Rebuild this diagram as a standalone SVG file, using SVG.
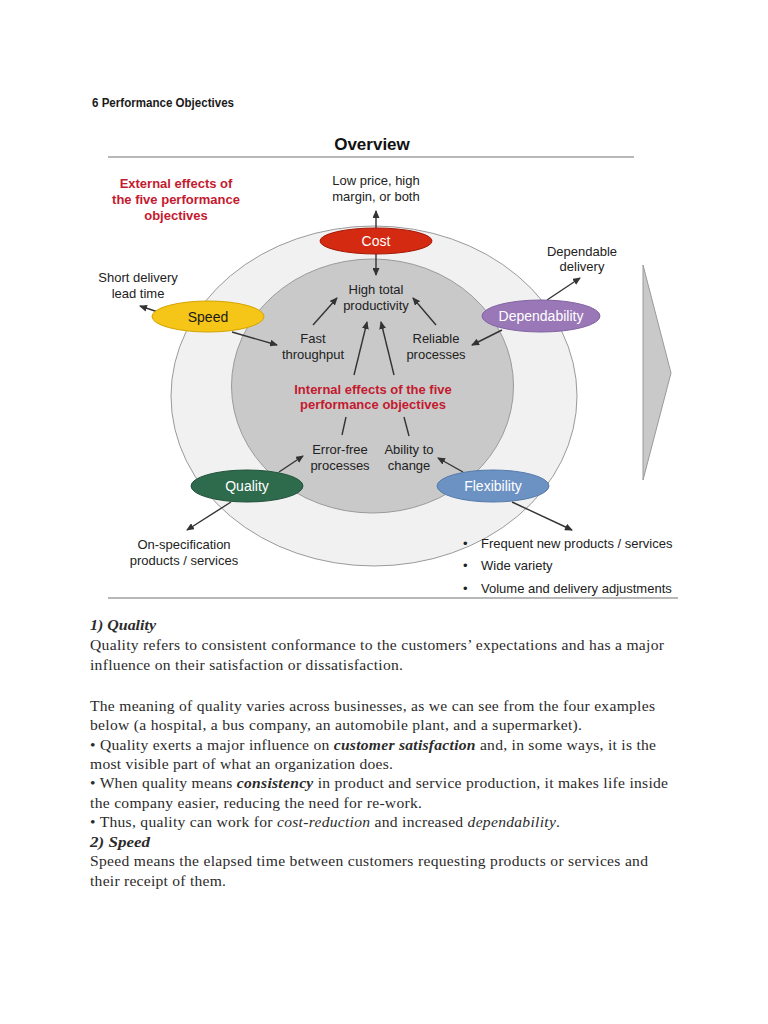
<svg xmlns="http://www.w3.org/2000/svg" width="768" height="1024" viewBox="0 0 768 1024">
<style>
.bg{fill:#ffffff}
.t{font-family:"Liberation Sans",Arial,sans-serif;font-size:13px;fill:#222;text-anchor:middle}
.red{font-family:"Liberation Sans",Arial,sans-serif;font-size:13px;font-weight:bold;fill:#c41a30;text-anchor:middle}
.lbl{font-family:"Liberation Sans",Arial,sans-serif;font-size:14px;fill:#fff;text-anchor:middle}
.bl{font-family:"Liberation Sans",Arial,sans-serif;font-size:13px;fill:#222}
.rule{stroke:#a0a0a0;stroke-width:1.5}
.con{stroke:#333;stroke-width:1.4;fill:none}
.arr{marker-end:url(#ah)}
.body{font-family:"Liberation Serif","Times New Roman",serif;font-size:15.6px;fill:#2b2b2b}
.bi{font-weight:bold;font-style:italic}
.it{font-style:italic}
</style>
<defs>
<marker id="ah" markerUnits="userSpaceOnUse" markerWidth="8" markerHeight="7" refX="7" refY="3.5" orient="auto">
<path d="M0,0 L8,3.5 L0,7 z" fill="#333"/>
</marker>
</defs>
<rect class="bg" x="0" y="0" width="768" height="1024"/>

<text x="92" y="107" font-family="Liberation Sans,Arial,sans-serif" font-size="13" font-weight="bold" fill="#1a1a1a" textLength="142" lengthAdjust="spacingAndGlyphs">6 Performance Objectives</text>

<text x="372" y="150" font-family="Liberation Sans,Arial,sans-serif" font-size="17" font-weight="bold" fill="#111" text-anchor="middle">Overview</text>
<line class="rule" x1="108" y1="157" x2="634" y2="157"/>
<line class="rule" x1="108" y1="598" x2="678" y2="598"/>

<g id="outer-ring">
<ellipse cx="374" cy="396" rx="203" ry="170" fill="#f1f1f1" stroke="#9a9a9a" stroke-width="1"/>
</g>
<g id="inner-circle">
<ellipse cx="372.5" cy="386" rx="141" ry="127" fill="#c9c9c9" stroke="#9a9a9a" stroke-width="1"/>
</g>
<g id="chevron">
<polygon points="643,265 671,373 643,480" fill="#c9c9c9" stroke="#9a9a9a" stroke-width="1"/>
</g>

<g id="external-label">
<text class="red" x="176" y="187.5">External effects of</text>
<text class="red" x="176" y="203.5">the five performance</text>
<text class="red" x="176" y="219.5">objectives</text>
</g>

<g id="internal-label">
<text class="red" x="373" y="393.5">Internal effects of the five</text>
<text class="red" x="373" y="408.5">performance objectives</text>
</g>

<g id="connectors">
<line class="con arr" x1="376" y1="228" x2="376" y2="211"/>
<line class="con arr" x1="376" y1="254" x2="376" y2="275"/>
<line class="con arr" x1="313" y1="325" x2="337" y2="298"/>
<line class="con arr" x1="436" y1="325" x2="413" y2="298"/>
<line class="con arr" x1="354" y1="375" x2="367" y2="322"/>
<line class="con arr" x1="394" y1="375" x2="381" y2="322"/>
<line class="con arr" x1="232" y1="332" x2="277" y2="345"/>
<line class="con arr" x1="502" y1="330" x2="472" y2="345"/>
<line class="con arr" x1="158" y1="312" x2="140" y2="306"/>
<line class="con arr" x1="547" y1="300" x2="580" y2="278"/>
<line class="con" x1="342" y1="435" x2="346" y2="417"/>
<line class="con" x1="409" y1="436" x2="404" y2="417"/>
<line class="con arr" x1="279" y1="472" x2="303" y2="456"/>
<line class="con arr" x1="463" y1="472" x2="438" y2="458"/>
<line class="con arr" x1="231" y1="502" x2="187" y2="530"/>
<line class="con arr" x1="512" y1="502" x2="572" y2="530"/>
</g>

<g id="cost">
<ellipse cx="376" cy="241" rx="56" ry="13" fill="#d42a12" stroke="#a51a08" stroke-width="1"/>
<text class="lbl" x="376" y="246">Cost</text>
</g>
<g id="speed">
<ellipse cx="208" cy="316.5" rx="56" ry="15.5" fill="#f5c518" stroke="#d4a300" stroke-width="1"/>
<text class="lbl" x="208" y="321.5" style="fill:#1a1a1a">Speed</text>
</g>
<g id="dependability">
<ellipse cx="541" cy="316" rx="59" ry="16" fill="#9a78b8" stroke="#7f62a0" stroke-width="1"/>
<text class="lbl" x="541" y="321">Dependability</text>
</g>
<g id="quality">
<ellipse cx="247" cy="486" rx="56" ry="16" fill="#2e6b4d" stroke="#21523a" stroke-width="1"/>
<text class="lbl" x="247" y="491">Quality</text>
</g>
<g id="flexibility">
<ellipse cx="493" cy="486" rx="56" ry="16" fill="#6c92c4" stroke="#557aa9" stroke-width="1"/>
<text class="lbl" x="493" y="491">Flexibility</text>
</g>

<g id="low-price">
<text class="t" x="376" y="185">Low price, high</text>
<text class="t" x="376" y="201">margin, or both</text>
</g>
<g id="high-total">
<text class="t" x="376" y="293.5">High total</text>
<text class="t" x="376" y="309.5">productivity</text>
</g>
<g id="fast-throughput">
<text class="t" x="313" y="342.5">Fast</text>
<text class="t" x="313" y="358.5">throughput</text>
</g>
<g id="reliable-processes">
<text class="t" x="436" y="342.5">Reliable</text>
<text class="t" x="436" y="358.5">processes</text>
</g>
<g id="error-free">
<text class="t" x="340" y="453.5">Error-free</text>
<text class="t" x="340" y="469.5">processes</text>
</g>
<g id="ability">
<text class="t" x="409" y="453.5">Ability to</text>
<text class="t" x="409" y="470">change</text>
</g>
<g id="short-delivery">
<text class="t" x="138" y="281.5">Short delivery</text>
<text class="t" x="138" y="297.5">lead time</text>
</g>
<g id="dependable-delivery">
<text class="t" x="582" y="255.5">Dependable</text>
<text class="t" x="582" y="271">delivery</text>
</g>
<g id="on-spec">
<text class="t" x="184" y="548.5">On-specification</text>
<text class="t" x="184" y="564.5">products / services</text>
</g>
<g id="flex-outcomes">
<text class="bl" x="463" y="547.5">•</text>
<text class="bl" x="481" y="547.5">Frequent new products / services</text>
<text class="bl" x="463" y="569.5">•</text>
<text class="bl" x="481" y="569.5">Wide variety</text>
<text class="bl" x="463" y="592.5">•</text>
<text class="bl" x="481" y="592.5">Volume and delivery adjustments</text>
</g>

<g id="body-text">
<text class="body bi" x="90" y="630" textLength="66" lengthAdjust="spacingAndGlyphs">1) Quality</text>
<text class="body" x="90" y="650" textLength="574" lengthAdjust="spacing">Quality refers to consistent conformance to the customers’ expectations and has a major</text>
<text class="body" x="90" y="670" textLength="313" lengthAdjust="spacing">influence on their satisfaction or dissatisfaction.</text>
<text class="body" x="90" y="711" textLength="565" lengthAdjust="spacing">The meaning of quality varies across businesses, as we can see from the four examples</text>
<text class="body" x="90" y="730" textLength="492" lengthAdjust="spacing">below (a hospital, a bus company, an automobile plant, and a supermarket).</text>
<text class="body" x="90" y="750" textLength="566" lengthAdjust="spacing">• Quality exerts a major influence on <tspan class="bi">customer satisfaction</tspan> and, in some ways, it is the</text>
<text class="body" x="90" y="769" textLength="303" lengthAdjust="spacing">most visible part of what an organization does.</text>
<text class="body" x="90" y="788" textLength="578" lengthAdjust="spacing">• When quality means <tspan class="bi">consistency</tspan> in product and service production, it makes life inside</text>
<text class="body" x="90" y="808" textLength="332" lengthAdjust="spacing">the company easier, reducing the need for re-work.</text>
<text class="body" x="90" y="827" textLength="470" lengthAdjust="spacing">• Thus, quality can work for <tspan class="it">cost-reduction</tspan> and increased <tspan class="it">dependability</tspan>.</text>
<text class="body bi" x="90" y="847" textLength="60" lengthAdjust="spacingAndGlyphs">2) Speed</text>
<text class="body" x="90" y="866" textLength="558" lengthAdjust="spacing">Speed means the elapsed time between customers requesting products or services and</text>
<text class="body" x="90" y="886" textLength="136" lengthAdjust="spacing">their receipt of them.</text>
</g>
</svg>
